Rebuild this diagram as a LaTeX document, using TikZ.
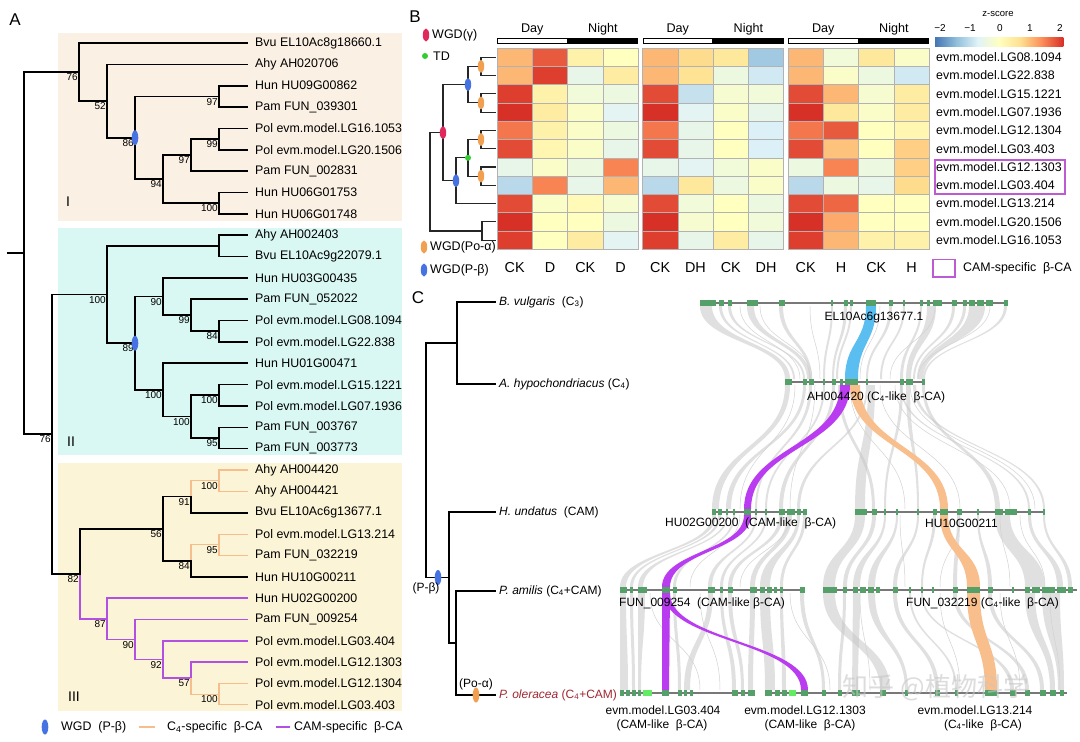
\documentclass[tikz,border=0pt]{standalone}
\usepackage{fontspec}
\setmainfont{Liberation Sans}
\newfontfamily\cjkfont{Noto Sans CJK SC}
\usetikzlibrary{calc}
\definecolor{bgI}{RGB}{251,240,228}
\definecolor{bgII}{RGB}{218,248,243}
\definecolor{bgIII}{RGB}{252,244,214}
\definecolor{c4c}{RGB}{245,190,140}
\definecolor{camc}{RGB}{180,80,225}
\definecolor{wgdblue}{RGB}{70,115,225}
\definecolor{wgdorange}{RGB}{240,160,80}
\definecolor{wgdred}{RGB}{225,40,90}
\definecolor{tdgreen}{RGB}{50,205,50}
\definecolor{hm0}{HTML}{4575B4}
\definecolor{hm1}{HTML}{91BFDB}
\definecolor{hm2}{HTML}{E0F3F8}
\definecolor{hm3}{HTML}{FFFFBF}
\definecolor{hm4}{HTML}{FEE090}
\definecolor{hm5}{HTML}{FC8D59}
\definecolor{hm6}{HTML}{D73027}
\definecolor{boxmag}{RGB}{190,90,210}
\definecolor{genec}{RGB}{85,160,105}
\definecolor{geneh}{RGB}{100,235,100}
\definecolor{trkc}{RGB}{120,120,120}
\definecolor{ribg}{RGB}{200,200,200}
\definecolor{ribblue}{RGB}{90,190,240}
\definecolor{ribcam}{RGB}{185,60,240}
\definecolor{ribc4}{RGB}{248,190,140}
\definecolor{olered}{RGB}{160,40,50}
\newcommand\fs[1]{\fontsize{#1}{#1}\selectfont}
\newcommand\hmcolor[1]{%
  \pgfmathsetmacro\hmt{max(0,min(5.999,(#1+2)*1.5))}%
  \pgfmathtruncatemacro\hmi{floor(\hmt)}%
  \pgfmathtruncatemacro\hmj{\hmi+1}%
  \pgfmathtruncatemacro\hmp{100*(\hmj-\hmt)}%
  \colorlet{hmc}{hm\hmi!\hmp!hm\hmj}}
\newcommand\rib[7]{%
  \fill[#1] (#2,#4) .. controls (#2,{(#4+#7)/2}) and (#5,{(#4+#7)/2}) .. (#5,#7)
   -- (#6,#7) .. controls (#6,{(#4+#7)/2}) and (#3,{(#4+#7)/2}) .. (#3,#4) -- cycle;}
\newcommand\gline[4]{%
  \draw[gray!35, line width=0.5pt] (#1,#2) .. controls (#1,{(#2+#4)/2}) and (#3,{(#2+#4)/2}) .. (#3,#4);}
\tikzset{
 br/.style={line width=1.6pt, black, line cap=rect},
 brc4/.style={line width=1.1pt, c4c, line cap=rect},
 brcam/.style={line width=1.5pt, camc, line cap=rect},
 btree/.style={line width=1.1pt, black!85, line cap=rect},
 leaflab/.style={anchor=west, inner sep=0pt, font=\fs{12.4}},
 boot/.style={anchor=north east, inner sep=0pt, font=\fs{10}},
 clade/.style={inner sep=0pt, font=\fs{14}},
 panel/.style={inner sep=0pt, font=\fs{17}},
 lab/.style={inner sep=0pt, font=\fs{12.4}},
 clab/.style={inner sep=0pt, font=\fs{12}},
 hmcell/.style={draw=gray!60, line width=0.6pt},
 trk/.style={draw=trkc, line width=1.1pt},
 grib/.style={fill=ribg, opacity=0.55},
}
\begin{document}
\begin{tikzpicture}[x=1pt,y=-1pt]
\useasboundingbox (0,0) rectangle (1080,742);
\fill[white] (0,0) rectangle (1080,742);

%================ PANEL A =================
\node[panel] (pA) at (15,20) {A};
\fill[bgI] (58,33) rectangle (402,221);
\fill[bgII] (58,228) rectangle (402,455);
\fill[bgIII] (58,463) rectangle (402,711);
\node[clade] (cI) at (68,202) {I};
\node[clade] (cII) at (71,442) {II};
\node[clade] (cIII) at (74,697) {III};

\foreach \i/\t in {0/Bvu EL10Ac8g18660.1, 1/Ahy AH020706, 2/Hun HU09G00862, 3/Pam FUN\_039301,
  4/Pol evm.model.LG16.1053, 5/Pol evm.model.LG20.1506, 6/Pam FUN\_002831, 7/Hun HU06G01753,
  8/Hun HU06G01748, 9/Ahy AH002403, 10/Bvu EL10Ac9g22079.1, 11/Hun HU03G00435, 12/Pam FUN\_052022,
  13/Pol evm.model.LG08.1094, 14/Pol evm.model.LG22.838, 15/Hun HU01G00471, 16/Pol evm.model.LG15.1221,
  17/Pol evm.model.LG07.1936, 18/Pam FUN\_003767, 19/Pam FUN\_003773, 20/Ahy AH004420, 21/Ahy AH004421,
  22/Bvu EL10Ac6g13677.1, 23/Pol evm.model.LG13.214, 24/Pam FUN\_032219, 25/Hun HU10G00211,
  26/Hun HU02G00200, 27/Pam FUN\_009254, 28/Pol evm.model.LG03.404, 29/Pol evm.model.LG12.1303,
  30/Pol evm.model.LG12.1304, 31/Pol evm.model.LG03.403} {
  \coordinate (l\i) at (247,{43+21.35*\i});
  \node[leaflab] (t\i) at (255,{43+21.35*\i}) {\t};
}
% internal nodes clade I
\coordinate (n97a) at (219,96.38);
\coordinate (n99) at (219,139.08);
\coordinate (n97b) at (191,155.09);
\coordinate (n100a) at (219,203.13);
\coordinate (n94) at (163,179.11);
\coordinate (n86) at (135,137.74);
\coordinate (n52) at (107,101.05);
\coordinate (n76a) at (79,72.02);
% clade II
\coordinate (nAB) at (219,245.83);
\coordinate (n84) at (219,331.23);
\coordinate (n99b) at (191,315.2);
\coordinate (n90) at (163,296.5);
\coordinate (n100d) at (219,395.28);
\coordinate (n95) at (219,437.98);
\coordinate (n100c) at (191,416.63);
\coordinate (n100b) at (163,389.94);
\coordinate (n89) at (135,343.22);
\coordinate (n100II) at (107,294.5);
% clade III
\coordinate (n100e) at (219,480.68);
\coordinate (n91) at (191,496.69);
\coordinate (n95b) at (219,544.73);
\coordinate (n84b) at (191,560.74);
\coordinate (n56) at (163,528.7);
\coordinate (n100f) at (219,694.18);
\coordinate (n57) at (191,678.16);
\coordinate (n92) at (163,659.48);
\coordinate (n90b) at (135,639.47);
\coordinate (n87) at (107,618.78);
\coordinate (n82) at (80,573.74);
\coordinate (n76b) at (52,434.12);
\coordinate (nroot) at (24,253.07);
\coordinate (rstub) at (8,253.07);

\draw[br] (rstub) -- (nroot);
\draw[br] (nroot) |- (n76a); \draw[br] (nroot) |- (n76b);
\draw[br] (n76a) |- (l0); \draw[br] (n76a) |- (n52);
\draw[br] (n52) |- (l1); \draw[br] (n52) |- (n86);
\draw[br] (n86) |- (n97a); \draw[br] (n86) |- (n94);
\draw[br] (n97a) |- (l2); \draw[br] (n97a) |- (l3);
\draw[br] (n94) |- (n97b); \draw[br] (n94) |- (n100a);
\draw[br] (n97b) |- (n99); \draw[br] (n97b) |- (l6);
\draw[br] (n99) |- (l4); \draw[br] (n99) |- (l5);
\draw[br] (n100a) |- (l7); \draw[br] (n100a) |- (l8);
\draw[br] (n76b) |- (n100II); \draw[br] (n76b) |- (n82);
\draw[br] (n100II) |- (nAB); \draw[br] (n100II) |- (n89);
\draw[br] (nAB) |- (l9); \draw[br] (nAB) |- (l10);
\draw[br] (n89) |- (n90); \draw[br] (n89) |- (n100b);
\draw[br] (n90) |- (l11); \draw[br] (n90) |- (n99b);
\draw[br] (n99b) |- (l12); \draw[br] (n99b) |- (n84);
\draw[br] (n84) |- (l13); \draw[br] (n84) |- (l14);
\draw[br] (n100b) |- (l15); \draw[br] (n100b) |- (n100c);
\draw[br] (n100c) |- (n100d); \draw[br] (n100c) |- (n95);
\draw[br] (n100d) |- (l16); \draw[br] (n100d) |- (l17);
\draw[br] (n95) |- (l18); \draw[br] (n95) |- (l19);
\draw[brc4] (n91) |- (n100e);
\draw[brc4] (n100e) |- (l20); \draw[brc4] (n100e) |- (l21);
\draw[brc4] (n84b) |- (n95b);
\draw[brc4] (n95b) |- (l23); \draw[brc4] (n95b) |- (l24);
\draw[brcam] (n82) |- (n87);
\draw[brcam] (n87) |- (l26); \draw[brcam] (n87) |- (n90b);
\draw[brcam] (n90b) |- (l27); \draw[brcam] (n90b) |- (n92);
\draw[brcam] (n92) |- (l28); \draw[brcam] (n92) |- (n57);
\draw[brcam] (n57) |- (l29);
\draw[brc4] (n57) |- (n100f);
\draw[brc4] (n100f) |- (l30); \draw[brc4] (n100f) |- (l31);
\draw[br] (n82) |- (n56);
\draw[br] (n56) |- (n91); \draw[br] (n56) |- (n84b);
\draw[br] (n91) |- (l22);
\draw[br] (n84b) |- (l25);

\foreach \n/\v in {n76a/76, n52/52, n86/86, n97a/97, n97b/97, n99/99, n94/94, n100a/100,
  n100II/100, n89/89, n90/90, n99b/99, n84/84, n100b/100, n100c/100, n100d/100, n95/95, n76b/76,
  n82/82, n56/56, n91/91, n100e/100, n84b/84, n95b/95, n87/87, n90b/90, n92/92, n57/57, n100f/100} {
  \node[boot] (bs\n) at ($(\n)+(-1,1.5)$) {\v};
}
\fill[wgdblue] (n86) ellipse [x radius=3.3pt, y radius=7.5pt];
\fill[wgdblue] (n89) ellipse [x radius=3.3pt, y radius=7.5pt];

% legend A
\coordinate (lgA) at (45,727);
\fill[wgdblue] (lgA) ellipse [x radius=3.3pt, y radius=7.5pt];
\node[leaflab] (lgAt1) at (61,727) {WGD\ \ (P-β)};
\coordinate (lgc4a) at (139,727); \coordinate (lgc4b) at (155,727);
\draw[brc4, line cap=butt] (lgc4a) -- (lgc4b);
\node[leaflab] (lgAt2) at (167,727) {C\textsubscript{4}-specific\ \ β-CA};
\coordinate (lgcama) at (276,727); \coordinate (lgcamb) at (290,727);
\draw[brcam, line cap=butt] (lgcama) -- (lgcamb);
\node[leaflab] (lgAt3) at (294,727) {CAM-specific\ \ β-CA};

%================ PANEL B =================
\node[panel] (pB) at (415,17) {B};
% heatmap
\foreach \row [count=\r] in {
 {1.0,1.7,0.3,0.0, 1.0,0.7,0.5,-1.2, 1.0,-0.3,0.5,-0.1},
 {1.0,1.9,-0.5,0.4, 1.0,0.6,-0.4,-0.8, 1.0,-0.1,-0.4,-0.8},
 {1.9,0.3,-0.3,-0.4, 1.8,-0.9,-0.2,-0.3, 1.8,1.0,-0.2,0.4},
 {2.0,0.4,-0.1,-0.6, 2.0,-0.6,-0.1,-0.5, 2.0,0.5,-0.1,0.4},
 {1.5,0.3,-0.1,-0.4, 1.5,-0.5,0.0,-0.7, 1.5,1.7,0.0,0.2},
 {1.8,0.2,-0.1,-0.5, 1.8,-0.5,0.0,-0.7, 1.8,0.9,0.0,0.8},
 {-0.5,-0.1,-0.4,1.4, -0.5,-0.6,-0.3,-0.1, -0.4,1.4,-0.4,0.8},
 {-1.0,1.4,-0.5,1.0, -1.0,0.5,-0.4,-0.1, -1.0,-0.4,-0.5,0.7},
 {1.8,-0.1,0.1,-0.2, 1.8,-0.3,0.0,-0.4, 1.8,1.6,0.0,0.0},
 {2.0,0.0,0.0,-0.4, 2.0,-0.2,0.0,-0.3, 2.0,1.1,0.0,0.0},
 {1.9,0.0,0.4,-0.6, 1.9,-0.5,0.4,-0.5, 1.9,1.0,0.3,0.3}} {
  \foreach \v [count=\c] in \row {
    \hmcolor{\v}
    \pgfmathsetmacro\cx{497+floor((\c-1)/4)*145.5+mod(\c-1,4)*35.3}
    \pgfmathsetmacro\cy{48+(\r-1)*18.3}
    \fill[hmc, hmcell] (\cx,\cy) rectangle ++(35.3,18.3);
  }
}
% Day / Night bars
\foreach \bx [count=\bi] in {497,642.5,788} {
  \draw[line width=0.8pt, fill=white] (\bx+0.6,38.6) rectangle (\bx+70.2,43.6);
  \fill[black] (\bx+70.6,38.2) rectangle (\bx+141.2,44);
  \node[lab, font=\fs{12.6}] (day\bi) at (\bx+35.3,29) {Day};
  \node[lab, font=\fs{12.6}] (night\bi) at (\bx+105.9,29) {Night};
}
% column labels
\foreach \lab [count=\c] in {CK,D,CK,D,CK,DH,CK,DH,CK,H,CK,H} {
  \pgfmathsetmacro\lx{497+floor((\c-1)/4)*145.5+mod(\c-1,4)*35.3+17.65}
  \node[lab, font=\fs{14.4}] (col\c) at (\lx,268) {\lab};
}
% row labels
\foreach \g [count=\k] in {LG08.1094,LG22.838,LG15.1221,LG07.1936,LG12.1304,LG03.403,
  LG12.1303,LG03.404,LG13.214,LG20.1506,LG16.1053} {
  \node[leaflab] (rl\k) at (936,{48+18.3*(\k-0.5)}) {evm.model.\g};
}
\draw[boxmag, line width=1.5pt] (935,160) rectangle (1065,194);
% colour bar
\foreach \k [evaluate=\k as \xa using 935+21.333*\k, evaluate=\k as \kn using int(\k+1)] in {0,...,5} {
  \shade[left color=hm\k, right color=hm\kn] (\xa,37) rectangle ++(21.6,9);
}
\node[lab, font=\fs{9.5}] (zs) at (998,14) {z-score};
\foreach \t/\tx in {−2/940, −1/970, 0/1000, 1/1030, 2/1060} {
  \node[lab, font=\fs{10}] (tk\tx) at (\tx,28) {\t};
}
% legend B
\node[leaflab, font=\fs{12.5}] (lgB1) at (432,35) {WGD(γ)};
\fill[wgdred] (426,35) ellipse [x radius=3.2pt, y radius=6.5pt];
\fill[tdgreen] (425,56) circle [radius=3pt];
\node[leaflab, font=\fs{12.5}] (lgB2) at (433,56) {TD};
\fill[wgdorange] (424,247) ellipse [x radius=3.2pt, y radius=6.5pt];
\node[leaflab, font=\fs{12.5}] (lgB3) at (430,247) {WGD(Po-α)};
\fill[wgdblue] (424,270) ellipse [x radius=3.2pt, y radius=6.5pt];
\node[leaflab, font=\fs{12.5}] (lgB4) at (430,270) {WGD(P-β)};
\draw[boxmag, line width=1.5pt] (933,259.5) rectangle (955,277);
\node[leaflab] (lgB5) at (963,268) {CAM-specific\ \ β-CA};
% tree B
\foreach \k in {1,...,11} { \coordinate (bl\k) at (495,{48+18.3*(\k-0.5)}); }
\coordinate (p1) at (481,66.3);
\coordinate (p2) at (481,102.9);
\coordinate (p3) at (481,139.5);
\coordinate (p4) at (481,176.1);
\coordinate (b1) at (468,84.6);
\coordinate (td) at (468,157.8);
\coordinate (b2) at (456,180.68);
\coordinate (rd) at (443,132.64);
\coordinate (p5) at (482,231);
\coordinate (rt) at (430,181.8);
\draw[btree] (rt) |- (rd); \draw[btree] (rt) |- (p5);
\draw[btree] (rd) |- (b1); \draw[btree] (rd) |- (b2);
\draw[btree] (b1) |- (p1); \draw[btree] (b1) |- (p2);
\draw[btree] (b2) |- (td); \draw[btree] (b2) |- (bl9);
\draw[btree] (td) |- (p3); \draw[btree] (td) |- (p4);
\draw[btree] (p1) |- (bl1); \draw[btree] (p1) |- (bl2);
\draw[btree] (p2) |- (bl3); \draw[btree] (p2) |- (bl4);
\draw[btree] (p3) |- (bl5); \draw[btree] (p3) |- (bl6);
\draw[btree] (p4) |- (bl7); \draw[btree] (p4) |- (bl8);
\draw[btree] (p5) |- (bl10); \draw[btree] (p5) |- (bl11);
\foreach \p in {p1,p2,p3,p4} { \fill[wgdorange] (\p) ellipse [x radius=3.2pt, y radius=6.5pt]; }
\foreach \p in {b1,b2} { \fill[wgdblue] (\p) ellipse [x radius=3.2pt, y radius=6.5pt]; }
\fill[wgdred] (rd) ellipse [x radius=3.2pt, y radius=6.5pt];
\fill[tdgreen] (td) circle [radius=3pt];

%================ PANEL C =================
\node[panel] (pC) at (418,298) {C};
% gray ribbons
\foreach \a/\b/\c/\d in {700/712/785/790, 719/722/793/795, 728/731/803/805, 747/754/807/811,
  779/783/809/812, 831/833/823/825, 844/847/832/834, 850/852/836/838, 889/892/866/868,
  903/905/880/882, 920/922/900/903, 927/936/906/911, 952/955/913/915, 963/966/917/919,
  969/985/919/923, 1004/1007/923/925} { \rib{grib}{\a}{\b}{306}{\c}{\d}{379} }
\foreach \a/\b/\c/\d in {785/790/712/719, 803/806/726/731, 809/812/755/757, 823/825/765/767,
  832/835/779/783, 866/868/797/800, 868/875/855/865, 900/903/884/886, 906/910/917/919,
  922/925/995/1000, 913/916/1043/1045, 900/902/1028/1030, 838/841/872/875} { \rib{grib}{\a}{\b}{385}{\c}{\d}{509} }
\foreach \a/\b/\c/\d in {712/716/620/626, 718/721/630/633, 726/728/638/643, 733/735/673/676,
  755/757/708/712, 765/767/720/723, 779/783/728/732, 787/792/750/755, 797/800/760/770,
  803/806/780/783, 855/865/823/835, 872/876/843/847, 884/886/853/860, 896/898/868/875,
  917/919/893/897, 933/936/921/923, 957/960/953/957, 977/979/988/992, 995/1010/1025/1045,
  1028/1031/1057/1063, 1043/1045/1068/1072} { \rib{grib}{\a}{\b}{515}{\c}{\d}{587} }
\foreach \a/\b/\c/\d in {620/626/620/628, 630/633/632/635, 638/645/638/641, 673/676/678/681,
  708/713/684/690, 720/723/732/736, 728/732/741/744, 750/755/748/753, 760/770/765/775,
  780/783/782/786, 800/804/822/825, 823/835/880/890, 843/846/838/841, 853/860/852/858,
  868/875/905/908, 893/897/935/939, 909/911/955/957, 921/923/1010/1014, 953/957/1025/1029,
  988/992/1040/1044, 1025/1035/1050/1055, 1042/1060/1058/1064} { \rib{grib}{\a}{\b}{593}{\c}{\d}{690} }
\foreach \a/\b/\c/\d in {740/306/800/379, 760/306/812/379, 810/306/820/379, 880/306/860/379,
  935/306/890/379, 990/306/918/379, 795/385/740/509, 815/385/790/509, 850/385/905/509,
  880/385/960/509, 895/385/1010/509, 910/385/1035/509, 740/515/690/587, 790/515/740/587,
  900/515/905/587, 960/515/940/587, 1000/515/1010/587, 1020/515/1045/587, 650/593/700/690,
  700/593/720/690, 790/593/830/690, 860/593/870/690, 940/593/960/690, 1000/593/1020/690,
  1050/593/1060/690} { \gline{\a}{\b}{\c}{\d} }
% coloured ribbons
\rib{ribblue}{866}{876}{306}{845}{858}{379}
\rib{ribcam}{840}{850}{385}{744}{751}{509}
\rib{ribcam}{744}{751}{515}{662}{670}{587}
\rib{ribcam}{662}{670}{593}{662}{669}{690}
\rib{ribcam}{664}{670}{593}{801}{808}{690}
\rib{ribc4}{850}{860}{385}{940}{948}{509}
\rib{ribc4}{940}{948}{515}{967}{980}{587}
\rib{ribc4}{967}{980}{593}{985}{997}{690}
% tracks
\draw[trk] (700,303) -- (1008,303);
\draw[trk] (785,382) -- (925,382);
\draw[trk] (712,512) -- (807,512);
\draw[trk] (855,512) -- (1045,512);
\draw[trk] (620,590) -- (805,590);
\draw[trk] (823,590) -- (1077,590);
\draw[trk] (620,693) -- (755,693);
\draw[trk] (765,693) -- (1067,693);
\foreach \a/\b in {700/716,719/724,728/732,747/758,779/785,831/833,844/848,850/853,866/876,889/893,
  903/905,920/923,927/930,933/942,952/957,963/967,969/975,977/984,986/993,1004/1008}
  { \fill[genec] (\a,300) rectangle (\b,306); }
\foreach \a/\b in {785/792,803/807,809/814,823/825,832/836,840/843,845/858,866/868,900/904,906/913,922/925}
  { \fill[genec] (\a,379) rectangle (\b,385); }
\foreach \a/\b in {712/716,718/722,726/728,733/735,744/751,755/757,765/767,779/785,787/795,797/801,803/807,
  855/867,872/877,884/886,896/898,917/919,933/937,940/948,957/962,977/979,995/1003,1005/1017,1028/1031,1043/1045}
  { \fill[genec] (\a,509) rectangle (\b,515); }
\foreach \a/\b in {620/627,630/633,638/647,662/670,673/677,708/715,720/723,728/733,750/757,760/765,767/772,
  774/777,780/783,800/805,823/837,843/847,853/858,860/866,868/874,876/880,893/898,909/911,921/923,932/934,
  953/958,967/980,988/993,1012/1014,1025/1030,1032/1040,1042/1055,1057/1066,1068/1073}
  { \fill[genec] (\a,587) rectangle (\b,593); }
\foreach \a/\b in {620/624,626/630,632/636,638/641,662/669,678/682,684/687,690/693,732/738,741/745,748/755,
  765/772,775/780,782/787,801/808,822/826,838/842,852/860,880/886,905/908,935/940,955/958,985/997,
  1010/1016,1025/1030,1040/1046,1050/1056,1060/1064}
  { \fill[genec] (\a,690) rectangle (\b,696); }
\fill[geneh] (643,690) rectangle (652,696);
\fill[geneh] (789,690) rectangle (796,696);
% labels C
\node[clab] (gBv) at (874,318) {EL10Ac6g13677.1};
\node[clab, anchor=west] (gAh) at (807,397) {AH004420 (C\textsubscript{4}-like\ \ β-CA)};
\node[clab, anchor=west] (gH1) at (665,523) {HU02G00200\ \ (CAM-like\ \ β-CA)};
\node[clab, anchor=west] (gH2) at (925,523) {HU10G00211};
\node[clab, anchor=west] (gP1) at (619,603) {FUN\_009254\ \ (CAM-like β-CA)};
\node[clab, anchor=west] (gP2) at (906,603) {FUN\_032219 (C\textsubscript{4}-like\ \ β-CA)};
\node[clab] (gO1) at (663,710) {evm.model.LG03.404};
\node[clab] (gO1b) at (662,725) {(CAM-like\ \ β-CA)};
\node[clab] (gO2) at (805,710) {evm.model.LG12.1303};
\node[clab] (gO2b) at (810,725) {(CAM-like\ \ β-CA)};
\node[clab] (gO3) at (975,710) {evm.model.LG13.214};
\node[clab] (gO3b) at (983,725) {(C\textsubscript{4}-like\ \ β-CA)};
% species tree C
\coordinate (cB) at (495,302);
\coordinate (cA) at (495,384);
\coordinate (cH) at (495,512);
\coordinate (cP) at (495,591);
\coordinate (cO) at (495,695);
\coordinate (cn1) at (457,343);
\coordinate (cn3) at (456,643);
\coordinate (cn2) at (449,577.5);
\coordinate (cr) at (426,460.25);
\draw[br] (cr) |- (cn1); \draw[br] (cr) |- (cn2);
\draw[br] (cn1) |- (cB); \draw[br] (cn1) |- (cA);
\draw[br] (cn2) |- (cH); \draw[br] (cn2) |- (cn3);
\draw[br] (cn3) |- (cP); \draw[br] (cn3) |- (cO);
\fill[wgdblue] (438,577.5) ellipse [x radius=3.3pt, y radius=7.5pt];
\fill[wgdorange] (476,695) ellipse [x radius=3.3pt, y radius=7.5pt];
\node[clab] (pbeta) at (426,588) {(P-β)};
\node[clab] (poalpha) at (476,684) {(Po-α)};
\node[clab, anchor=west] (sB) at (499,302) {\textit{B. vulgaris}\ \ (C\textsubscript{3})};
\node[clab, anchor=west] (sA) at (499,384) {\textit{A. hypochondriacus} (C\textsubscript{4})};
\node[clab, anchor=west] (sH) at (499,512) {\textit{H. undatus}\ \ (CAM)};
\node[clab, anchor=west] (sP) at (499,591) {\textit{P. amilis} (C\textsubscript{4}+CAM)};
\node[clab, anchor=west, text=olered] (sO) at (499,695) {\textit{P. oleracea} (C\textsubscript{4}+CAM)};
% watermark
\node[inner sep=0pt, font=\cjkfont\fs{26}, text=gray!45, opacity=0.6] (wm) at (936,688) {知乎 @植物科学};
\end{tikzpicture}
\end{document}
